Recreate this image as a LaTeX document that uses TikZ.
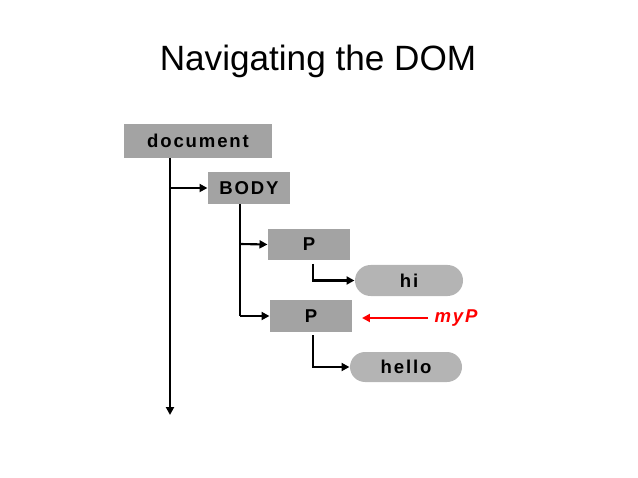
\documentclass[tikz,border=0pt]{standalone}
\usepackage{fontspec}
\setmainfont{Liberation Sans}
\newfontfamily\boxfont[LetterSpace=10]{Liberation Sans}
\usetikzlibrary{arrows.meta,shapes.misc}
\definecolor{boxgray}{HTML}{A3A3A3}
\definecolor{pillgray}{HTML}{B4B4B4}
\begin{document}
\begin{tikzpicture}[x=0.0265cm, y=-0.0265cm, thick,
  box/.style={fill=boxgray, font=\boxfont\bfseries\fontsize{14}{16}\selectfont, inner sep=0pt},
  pill/.style={rounded rectangle, fill=pillgray, font=\boxfont\bfseries\fontsize{14}{16}\selectfont, inner sep=0pt},
  tip/.style={-{Triangle[length=6pt,width=6pt]}, line width=1.6pt}]
\useasboundingbox (0,0) rectangle (638,478);

\node (title) at (318,61) {\fontsize{26.5}{30}\selectfont Navigating the DOM};

% tree boxes
\node[box, minimum width=148*0.0265cm, minimum height=34*0.0265cm] (doc) at (198,141) {document};
\node[box, minimum width=82*0.0265cm, minimum height=32*0.0265cm] (body) at (249,188) {BODY};
\node[box, minimum width=82*0.0265cm, minimum height=31*0.0265cm] (p1) at (309,244.5) {P};
\node[box, minimum width=82*0.0265cm, minimum height=32*0.0265cm] (p2) at (311,316) {P};
\node[pill, minimum width=108*0.0265cm, minimum height=31*0.0265cm] (hi) at (409,280.5) {hi};
\node[pill, minimum width=112*0.0265cm, minimum height=30*0.0265cm] (hello) at (406,367) {hello};
\node[text=red, font=\boxfont\bfseries\itshape\fontsize{14}{16}\selectfont, anchor=west, inner sep=0pt] (myp) at (434,318) {myP};

% connectors
\coordinate (docend) at (170,415);
\coordinate (mypend) at (362,318);
\draw[tip] (170,158) -- (docend);
\draw[tip] (170,188) -- (body.west);
\draw[line width=1.6pt] (240,204) -- (240,316);
\draw[tip] (240,244) -- (p1.west);
\draw[tip] (240,316) -- (p2.west);
\draw[tip] (313,264) |- (hi.west);
\draw[tip] (313,335) |- (hello.west);
\draw[tip, red] (428,318) -- (mypend);
\end{tikzpicture}
\end{document}
